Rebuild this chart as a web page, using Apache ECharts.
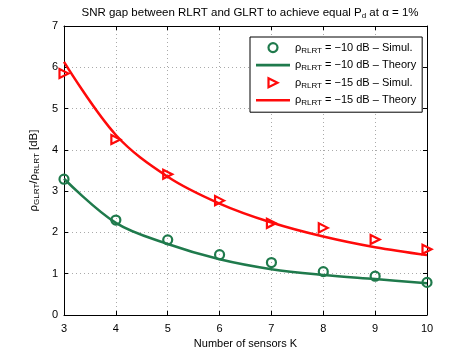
<!DOCTYPE html>
<html><head><meta charset="utf-8">
<script src="https://cdn.jsdelivr.net/npm/echarts@6/dist/echarts.min.js"></script>
<style>html,body{margin:0;padding:0;background:#fff}#c{width:474px;height:355px}</style>
</head><body><div id="c"></div>
<script>
const sensors = [3, 4, 5, 6, 7, 8, 9, 10];
const simul10 = [3.29, 2.30, 1.82, 1.46, 1.27, 1.05, 0.94, 0.79];
const theory10 = [3.30, 2.23, 1.72, 1.35, 1.11, 0.97, 0.87, 0.77];
const simul15 = [5.85, 4.25, 3.41, 2.77, 2.22, 2.11, 1.83, 1.59];
const theory15 = [6.13, 4.36, 3.35, 2.70, 2.24, 1.90, 1.64, 1.45];
const yTicks = [0, 1, 2, 3, 4, 5, 6, 7];

const GREEN = '#1f7a4c', RED = '#ff0a0a';
const FONT = 'Liberation Sans';
const pairs = a => sensors.map((k, i) => [k, a[i]]);
const names = {
  s10: '−10 dB – Simul.', t10: '−10 dB – Theory',
  s15: '−15 dB – Simul.', t15: '−15 dB – Theory'
};
const sub = {fontSize: 8, verticalAlign: 'bottom', padding: [6, 0, 0, 0], fontFamily: FONT, color: '#000'};
const chart = echarts.init(document.getElementById('c'), null, {renderer: 'canvas'});
const axisCommon = {
  type: 'value', min: 0, max: 7, interval: 1,
  axisLine: {show: true, onZero: false, lineStyle: {color: '#000', width: 1}},
  axisTick: {show: true, inside: true, length: 4, lineStyle: {color: '#000'}},
  splitLine: {show: false}
};
const circlePath = 'path://M5,0 A5,5 0 1,1 4.99,0 Z';
chart.setOption({
  animation: false,
  textStyle: {fontFamily: FONT},
  title: {
    text: 'SNR gap between RLRT and GLRT to achieve equal P{s|d} at α = 1%',
    left: 245, top: 0, textAlign: 'center',
    textStyle: {fontSize: 11.5, fontWeight: 'normal', color: '#000', fontFamily: FONT,
      rich: {s: {fontSize: 8, padding: [7, 0, 0, 0], fontFamily: FONT, color: '#000'}}}
  },
  grid: {left: 64, right: 47, top: 26, bottom: 40},
  legend: {
    orient: 'vertical', left: 250, top: 37, width: 172,
    backgroundColor: '#fff', borderColor: '#000', borderWidth: 1,
    padding: [5, 6, 5, 6], itemGap: 5, itemWidth: 34, itemHeight: 9,
    data: [
      {name: 's10', icon: 'circle', itemStyle: {color: '#fff', borderColor: GREEN, borderWidth: 2.2}},
      {name: 't10', icon: 'path://M0,0 L40,0 L40,3 L0,3 Z', itemStyle: {color: GREEN}},
      {name: 's15', icon: 'path://M0,0 L10,5 L0,10 Z', itemStyle: {color: '#fff', borderColor: RED, borderWidth: 2.2}},
      {name: 't15', icon: 'path://M0,0 L40,0 L40,3 L0,3 Z', itemStyle: {color: RED}}
    ],
    formatter: n => 'ρ{sub|RLRT} = ' + names[n],
    textStyle: {fontSize: 11, color: '#000', fontFamily: FONT, rich: {sub: sub}}
  },
  xAxis: [
    Object.assign({}, axisCommon, {
      min: 3, max: 10, interval: 1, position: 'bottom',
      name: 'Number of sensors K', nameLocation: 'middle', nameGap: 22,
      nameTextStyle: {fontSize: 11, color: '#000', fontFamily: FONT},
      axisLabel: {color: '#000', fontSize: 11, fontFamily: FONT, margin: 8},
      splitLine: {show: true, lineStyle: {color: '#aaa', type: [1, 3], width: 1}}
    }),
    Object.assign({}, axisCommon, {min: 3, max: 10, interval: 1, position: 'top', axisLabel: {show: false}})
  ],
  yAxis: [
    Object.assign({}, axisCommon, {
      position: 'left',
      name: 'ρ{sub|GLRT}/ρ{sub|RLRT} [dB]', nameLocation: 'middle', nameGap: 20, nameRotate: 90,
      nameTextStyle: {fontSize: 11.5, color: '#000', fontFamily: FONT, rich: {sub: sub}},
      axisLabel: {color: '#000', fontSize: 11, fontFamily: FONT, margin: 6, formatter: v => yTicks.includes(v) ? String(v) : ''},
      splitLine: {show: true, lineStyle: {color: '#aaa', type: [1, 3], width: 1}}
    }),
    Object.assign({}, axisCommon, {position: 'right', axisLabel: {show: false}})
  ],
  series: [
    {name: 't10', type: 'line', data: pairs(theory10), smooth: 0.35, showSymbol: false, symbol: 'none',
      lineStyle: {color: GREEN, width: 2.5}, itemStyle: {color: GREEN}, z: 2},
    {name: 't15', type: 'line', data: pairs(theory15), smooth: 0.35, showSymbol: false, symbol: 'none',
      lineStyle: {color: RED, width: 2.5}, itemStyle: {color: RED}, z: 2},
    {name: 's10', type: 'scatter', data: pairs(simul10), symbol: 'circle', symbolSize: 9,
      itemStyle: {color: 'rgba(0,0,0,0)', borderColor: GREEN, borderWidth: 2.2, opacity: 1}, z: 3},
    {name: 's15', type: 'scatter', data: pairs(simul15), symbol: 'triangle', symbolSize: 9, symbolRotate: -90,
      itemStyle: {color: 'rgba(0,0,0,0)', borderColor: RED, borderWidth: 2.2, opacity: 1}, z: 3}
  ]
});
</script></body></html>
